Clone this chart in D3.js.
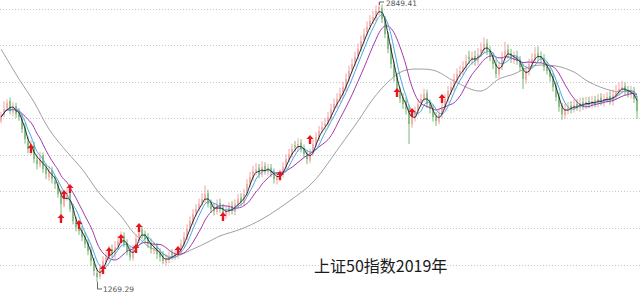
<!DOCTYPE html>
<html><head><meta charset="utf-8">
<script src="https://cdnjs.cloudflare.com/ajax/libs/d3/7.8.5/d3.min.js"></script>
<style>html,body{margin:0;padding:0;background:#fff;}svg{display:block;}</style>
</head><body>
<svg id="c" width="640" height="299"></svg>
<script>
const opens = [2180,2215,2250,2290,2225,2262,2230,2190,2140,2060,2000,2040,1960,1930,1985,1915,1860,1900,1840,1815,
1760,1700,1745,1770,1690,1620,1585,1565,1530,1490,1450,1380,1320,1300,1350,1380,1400,1455,1420,1470,
1495,1530,1490,1450,1405,1460,1505,1565,1540,1520,1490,1445,1470,1435,1420,1380,1395,1430,1415,1420,
1440,1480,1520,1575,1605,1660,1690,1715,1730,1770,1715,1690,1665,1715,1690,1645,1665,1700,1665,1705,
1745,1715,1770,1825,1855,1890,1915,1875,1925,1890,1915,1890,1845,1855,1875,1915,1960,1985,2040,2025,
2055,2025,1995,1955,1995,2045,2080,2130,2150,2160,2195,2250,2270,2310,2325,2365,2420,2470,2505,2545,
2590,2635,2680,2715,2750,2760,2800,2815,2750,2660,2590,2495,2430,2345,2310,2290,2250,2160,2195,2230,
2280,2305,2335,2280,2250,2205,2175,2215,2250,2300,2345,2370,2410,2450,2455,2480,2540,2520,2545,2515,
2560,2580,2615,2575,2540,2500,2440,2485,2540,2580,2560,2520,2545,2520,2480,2410,2455,2500,2525,2560,
2545,2530,2490,2465,2430,2375,2315,2260,2210,2240,2265,2240,2275,2250,2285,2262,2290,2268,2295,2275,
2310,2280,2298,2318,2285,2320,2340,2355,2375,2350,2325,2350,2300];
const highs = [2230,2290,2300,2310,2285,2280,2250,2215,2165,2090,2070,2060,1990,2005,2000,1940,1925,1920,1870,1835,
1790,1790,1800,1790,1710,1640,1610,1585,1550,1510,1470,1405,1345,1370,1415,1440,1475,1480,1500,1530,
1555,1550,1510,1470,1480,1540,1590,1585,1560,1545,1515,1495,1490,1460,1445,1425,1440,1455,1450,1470,
1510,1550,1595,1640,1680,1710,1740,1770,1815,1790,1735,1715,1735,1740,1710,1695,1720,1725,1735,1765,
1770,1795,1850,1890,1925,1940,1935,1950,1945,1935,1935,1910,1890,1905,1945,1990,2020,2050,2065,2080,
2075,2045,2015,2020,2075,2115,2150,2175,2195,2230,2275,2305,2335,2365,2400,2445,2490,2530,2570,2615,
2660,2700,2740,2775,2800,2830,2849.41,2835,2770,2680,2610,2515,2450,2370,2335,2310,2270,2230,2260,2300,
2330,2360,2355,2300,2270,2230,2245,2285,2330,2375,2400,2445,2475,2490,2515,2550,2575,2570,2575,2590,
2620,2650,2640,2600,2565,2525,2510,2570,2625,2610,2585,2570,2575,2545,2500,2490,2530,2560,2595,2600,
2570,2555,2515,2490,2450,2400,2340,2280,2275,2285,2290,2300,2300,2310,2310,2315,2315,2320,2320,2330,
2335,2330,2340,2345,2355,2380,2395,2405,2395,2375,2375,2370,2320];
const lows = [2165,2200,2235,2215,2205,2195,2180,2110,2050,1995,1985,1940,1905,1915,1885,1850,1840,1825,1795,1745,
1620,1690,1730,1665,1595,1555,1535,1500,1460,1420,1360,1305,1269.29,1285,1335,1360,1385,1405,1400,1450,
1480,1465,1420,1390,1390,1445,1490,1510,1490,1460,1430,1425,1400,1385,1370,1360,1375,1395,1395,1400,
1425,1465,1505,1555,1590,1640,1670,1700,1715,1690,1660,1645,1650,1660,1630,1625,1645,1650,1645,1690,
1700,1700,1755,1805,1840,1870,1855,1860,1875,1870,1860,1825,1820,1835,1860,1900,1945,1970,2005,2005,
2000,1970,1935,1940,1980,2030,2065,2110,2125,2140,2180,2230,2250,2285,2305,2345,2400,2450,2485,2525,
2570,2615,2660,2695,2725,2740,2775,2730,2645,2560,2475,2400,2320,2280,2245,2215,2048,2140,2175,2210,
2260,2285,2250,2220,2175,2150,2160,2195,2235,2280,2325,2350,2390,2425,2435,2460,2500,2495,2490,2495,
2540,2560,2550,2515,2470,2420,2420,2465,2520,2530,2505,2500,2495,2460,2358,2390,2435,2480,2505,2515,
2505,2460,2440,2400,2345,2290,2230,2185,2190,2215,2220,2225,2235,2230,2240,2245,2250,2250,2255,2255,
2265,2260,2280,2270,2265,2300,2320,2335,2325,2310,2305,2280,2190];
const closes = [2200,2245,2279,2234,2257,2217,2200,2132,2076,2020,2031,1963,1935,1974,1907,1878,1895,1850,1822,1766,
1709,1749,1766,1681,1613,1579,1557,1523,1483,1444,1388,1331,1297,1342,1388,1410,1444,1427,1466,1500,
1523,1483,1444,1410,1455,1512,1557,1534,1512,1483,1455,1466,1427,1410,1388,1399,1410,1421,1427,1444,
1483,1523,1568,1613,1653,1681,1709,1737,1766,1709,1681,1670,1709,1681,1653,1670,1692,1670,1709,1737,
1720,1766,1822,1861,1895,1907,1878,1918,1895,1907,1884,1850,1861,1878,1918,1963,1991,2020,2031,2048,
2020,1991,1963,1991,2048,2087,2121,2144,2161,2200,2245,2273,2302,2330,2369,2415,2460,2499,2539,2584,
2629,2668,2708,2742,2764,2798,2821,2753,2668,2584,2499,2426,2347,2302,2273,2245,2161,2200,2234,2273,
2302,2330,2273,2245,2200,2178,2217,2257,2302,2347,2369,2415,2443,2460,2482,2516,2527,2539,2516,2556,
2584,2612,2573,2539,2499,2443,2482,2539,2573,2556,2527,2539,2516,2482,2415,2460,2499,2527,2556,2539,
2527,2482,2460,2426,2369,2313,2257,2217,2245,2257,2245,2268,2257,2279,2268,2285,2273,2290,2279,2302,
2285,2302,2313,2290,2324,2347,2358,2369,2347,2330,2347,2302,2234];

// long moving average (grey) at selected candles
const longMaIdx = [0,6,11,16,22,27,33,40,44,49,53,57,64,69,73,80,87,97,104,113,119,124,129,134,140,145,151,160,166,171,177,185,191,196,204,211,212];
const longMaVal = [2584,2415,2285,2132,2003,1907,1766,1641,1551,1472,1438,1410,1455,1495,1529,1568,1624,1737,1833,2036,2178,2302,2398,2460,2471,2460,2403,2347,2415,2443,2488,2488,2454,2398,2347,2341,2330];

const arrowIdx = [10,21,23,20,26,34,36,40,45,46,59,74,93,103,132,137,147];
const arrowVal = [2020,1760,1794,1625,1591,1337,1438,1512,1455,1574,1444,1636,1867,2070,2336,2223,2302];

const gridLevels = [2810,2606,2398,2194,1986,1782,1574,1365];
const highLabel = "2849.41", lowLabel = "1269.29";
const title = "上证50指数2019年";

const W = 640, H = 299;
const svg = d3.select("#c");
const N = closes.length;
const x = d3.scaleLinear().domain([0, N - 1]).range([1, 637]);
const y = d3.scaleLinear().domain([1269.29, 2849.41]).range([282, 2]);

// grid
svg.append("g").selectAll("line").data(gridLevels).join("line")
  .attr("x1", 0).attr("x2", W)
  .attr("y1", d => Math.round(y(d)) + 0.5).attr("y2", d => Math.round(y(d)) + 0.5)
  .attr("stroke", "#c8c8c8").attr("stroke-width", 1).attr("stroke-dasharray", "1,2");

function ma(arr, n) {
  return arr.map((d, i) => d3.mean(arr.slice(Math.max(0, i - n + 1), i + 1)));
}

// long MA
const longPts = longMaIdx.map((d, i) => [x(d), y(longMaVal[i])]);
svg.append("path").attr("d", d3.line().curve(d3.curveCatmullRom)(longPts))
  .attr("fill", "none").attr("stroke", "#a0a0a0").attr("stroke-width", 1);

// candles
const cg = svg.append("g");
const idx = d3.range(N);
const upC = "#f3a2a2", dnC = "#78b878";
cg.selectAll("line").data(idx).join("line")
  .attr("x1", i => x(i)).attr("x2", i => x(i))
  .attr("y1", i => y(highs[i])).attr("y2", i => y(lows[i]))
  .attr("stroke", i => closes[i] >= opens[i] ? upC : dnC).attr("stroke-width", 1);
cg.selectAll("rect").data(idx).join("rect")
  .attr("x", i => x(i) - 0.75).attr("width", 1.5)
  .attr("y", i => y(Math.max(opens[i], closes[i])))
  .attr("height", i => Math.max(1, Math.abs(y(opens[i]) - y(closes[i]))))
  .attr("fill", i => closes[i] >= opens[i] ? upC : dnC);

// short MAs
const lines = [
  {n: 10, c: "#a23aa8"},
  {n: 5, c: "#45a6e6"},
  {n: 3, c: "#2a2a2a"}
];
lines.forEach(l => {
  const vals = ma(closes, l.n);
  svg.append("path").attr("d", d3.line().curve(d3.curveMonotoneX)(vals.map((v, i) => [x(i), y(v)])))
    .attr("fill", "none").attr("stroke", l.c).attr("stroke-width", 1);
});

// arrows
const ag = svg.append("g");
arrowIdx.forEach((d, i) => {
  const cx = x(d), cy = y(arrowVal[i]);
  ag.append("path")
    .attr("d", `M${cx},${cy - 5} L${cx + 3.5},${cy - 1} L${cx + 1.2},${cy - 1} L${cx + 1.2},${cy + 4} L${cx - 1.2},${cy + 4} L${cx - 1.2},${cy - 1} L${cx - 3.5},${cy - 1} Z`)
    .attr("fill", "#e8141e");
});

// high / low labels
const hi = highs.indexOf(d3.max(highs)), lo = lows.indexOf(d3.min(lows));
const hx = x(hi), hy = y(highs[hi]);
svg.append("path").attr("d", `M${hx + 0.5},${hy + 3} L${hx + 0.5},${hy} L${hx + 5},${hy}`)
  .attr("fill", "none").attr("stroke", "#666").attr("stroke-width", 1);
svg.append("text").attr("x", hx + 7).attr("y", hy + 4).text(highLabel)
  .attr("font-family", "DejaVu Sans, sans-serif").attr("font-size", 7.5).attr("fill", "#555");
const lx = x(lo), ly = y(lows[lo]);
svg.append("path").attr("d", `M${lx + 0.5},${ly} L${lx + 0.5},${ly + 7} L${lx + 5},${ly + 7}`)
  .attr("fill", "none").attr("stroke", "#666").attr("stroke-width", 1);
svg.append("text").attr("x", lx + 6).attr("y", ly + 10).text(lowLabel)
  .attr("font-family", "DejaVu Sans, sans-serif").attr("font-size", 7.5).attr("fill", "#555");

// title
svg.append("text").attr("x", 314).attr("y", 272).text(title)
  .attr("font-family", "Noto Sans CJK SC, sans-serif").attr("font-size", 16).attr("fill", "#1a1a1a");
</script>
</body></html>
